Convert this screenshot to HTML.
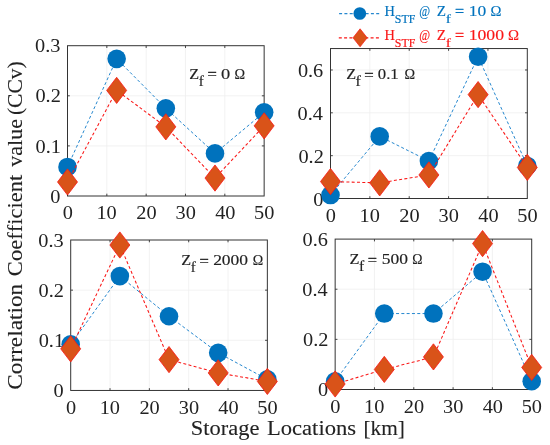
<!DOCTYPE html>
<html lang="en"><head><meta charset="utf-8"><title>Correlation Coefficient value vs Storage Locations</title>
<style>html,body{margin:0;padding:0;background:#fff}body{width:550px;height:445px;overflow:hidden}svg{display:block}</style></head>
<body>
<svg width="550" height="445" viewBox="0 0 550 445" font-family='"Liberation Serif", "DejaVu Serif", serif' style="font-kerning:none">
<rect width="550" height="445" fill="#fff"/>
<path d="M106.83 45.70V196.00M146.16 45.70V196.00M185.49 45.70V196.00M224.82 45.70V196.00M67.50 145.90H264.15M67.50 95.80H264.15" stroke="#efefef" stroke-width="0.8" fill="none"/>
<rect x="67.50" y="45.70" width="196.65" height="150.30" fill="none" stroke="#333" stroke-width="1.0"/>
<path d="M106.83 196.00v-2.3M106.83 45.70v2.3M146.16 196.00v-2.3M146.16 45.70v2.3M185.49 196.00v-2.3M185.49 45.70v2.3M224.82 196.00v-2.3M224.82 45.70v2.3M67.50 145.90h2.3M264.15 145.90h-2.3M67.50 95.80h2.3M264.15 95.80h-2.3" stroke="#333" stroke-width="0.9" fill="none"/>
<text transform="translate(62.71 219.25) scale(1.1300 1)" font-size="18" fill="#222">0</text>
<text transform="translate(96.45 219.25) scale(1.1300 1)" font-size="18" fill="#222">10</text>
<text transform="translate(136.23 219.25) scale(1.1300 1)" font-size="18" fill="#222">20</text>
<text transform="translate(175.52 219.25) scale(1.1300 1)" font-size="18" fill="#222">30</text>
<text transform="translate(215.14 219.25) scale(1.1300 1)" font-size="18" fill="#222">40</text>
<text transform="translate(254.08 219.25) scale(1.1300 1)" font-size="18" fill="#222">50</text>
<text transform="translate(50.30 202.60) scale(1.1300 1)" font-size="18" fill="#222">0</text>
<text transform="translate(35.50 152.50) scale(1.1300 1)" font-size="18" fill="#222">0.1</text>
<text transform="translate(35.40 102.40) scale(1.1300 1)" font-size="18" fill="#222">0.2</text>
<text transform="translate(35.07 52.30) scale(1.1300 1)" font-size="18" fill="#222">0.3</text>
<polyline points="67.50,166.94 116.66,58.83 165.82,108.32 214.99,153.41 264.15,112.33" fill="none" stroke="#2688CF" stroke-width="1.0" stroke-dasharray="3 2.3"/>
<circle cx="67.50" cy="166.94" r="9.3" fill="#0072BD"/>
<circle cx="116.66" cy="58.83" r="9.3" fill="#0072BD"/>
<circle cx="165.82" cy="108.32" r="9.3" fill="#0072BD"/>
<circle cx="214.99" cy="153.41" r="9.3" fill="#0072BD"/>
<circle cx="264.15" cy="112.33" r="9.3" fill="#0072BD"/>
<polyline points="67.50,181.97 116.66,90.39 165.82,126.86 214.99,178.06 264.15,125.86" fill="none" stroke="#FA1616" stroke-width="1.05" stroke-dasharray="3 2.3"/>
<path d="M67.50 168.87L77.50 181.97L67.50 195.07L57.50 181.97Z" fill="#D95319" stroke="#FA1616" stroke-width="0.8" stroke-linejoin="miter"/>
<path d="M116.66 77.29L126.66 90.39L116.66 103.49L106.66 90.39Z" fill="#D95319" stroke="#FA1616" stroke-width="0.8" stroke-linejoin="miter"/>
<path d="M165.82 113.76L175.82 126.86L165.82 139.96L155.82 126.86Z" fill="#D95319" stroke="#FA1616" stroke-width="0.8" stroke-linejoin="miter"/>
<path d="M214.99 164.96L224.99 178.06L214.99 191.16L204.99 178.06Z" fill="#D95319" stroke="#FA1616" stroke-width="0.8" stroke-linejoin="miter"/>
<path d="M264.15 112.76L274.15 125.86L264.15 138.96L254.15 125.86Z" fill="#D95319" stroke="#FA1616" stroke-width="0.8" stroke-linejoin="miter"/>
<path d="M369.86 48.55V198.50M409.22 48.55V198.50M448.58 48.55V198.50M487.94 48.55V198.50M330.50 155.66H527.30M330.50 112.81H527.30M330.50 69.97H527.30" stroke="#efefef" stroke-width="0.8" fill="none"/>
<rect x="330.50" y="48.55" width="196.80" height="149.95" fill="none" stroke="#333" stroke-width="1.0"/>
<path d="M369.86 198.50v-2.3M369.86 48.55v2.3M409.22 198.50v-2.3M409.22 48.55v2.3M448.58 198.50v-2.3M448.58 48.55v2.3M487.94 198.50v-2.3M487.94 48.55v2.3M330.50 155.66h2.3M527.30 155.66h-2.3M330.50 112.81h2.3M527.30 112.81h-2.3M330.50 69.97h2.3M527.30 69.97h-2.3" stroke="#333" stroke-width="0.9" fill="none"/>
<text transform="translate(325.72 221.75) scale(1.1300 1)" font-size="18" fill="#222">0</text>
<text transform="translate(359.48 221.75) scale(1.1300 1)" font-size="18" fill="#222">10</text>
<text transform="translate(399.29 221.75) scale(1.1300 1)" font-size="18" fill="#222">20</text>
<text transform="translate(438.61 221.75) scale(1.1300 1)" font-size="18" fill="#222">30</text>
<text transform="translate(478.26 221.75) scale(1.1300 1)" font-size="18" fill="#222">40</text>
<text transform="translate(517.23 221.75) scale(1.1300 1)" font-size="18" fill="#222">50</text>
<text transform="translate(313.30 205.50) scale(1.1300 1)" font-size="18" fill="#222">0</text>
<text transform="translate(298.40 162.66) scale(1.1300 1)" font-size="18" fill="#222">0.2</text>
<text transform="translate(297.59 119.81) scale(1.1300 1)" font-size="18" fill="#222">0.4</text>
<text transform="translate(297.88 76.97) scale(1.1300 1)" font-size="18" fill="#222">0.6</text>
<polyline points="330.50,195.07 379.70,136.38 428.90,161.01 478.10,56.69 527.30,165.94" fill="none" stroke="#2688CF" stroke-width="1.0" stroke-dasharray="3 2.3"/>
<circle cx="330.50" cy="195.07" r="9.3" fill="#0072BD"/>
<circle cx="379.70" cy="136.38" r="9.3" fill="#0072BD"/>
<circle cx="428.90" cy="161.01" r="9.3" fill="#0072BD"/>
<circle cx="478.10" cy="56.69" r="9.3" fill="#0072BD"/>
<circle cx="527.30" cy="165.94" r="9.3" fill="#0072BD"/>
<polyline points="330.50,181.58 379.70,182.86 428.90,174.94 478.10,94.61 527.30,167.44" fill="none" stroke="#FA1616" stroke-width="1.05" stroke-dasharray="3 2.3"/>
<path d="M330.50 168.48L340.50 181.58L330.50 194.68L320.50 181.58Z" fill="#D95319" stroke="#FA1616" stroke-width="0.8" stroke-linejoin="miter"/>
<path d="M379.70 169.76L389.70 182.86L379.70 195.96L369.70 182.86Z" fill="#D95319" stroke="#FA1616" stroke-width="0.8" stroke-linejoin="miter"/>
<path d="M428.90 161.84L438.90 174.94L428.90 188.04L418.90 174.94Z" fill="#D95319" stroke="#FA1616" stroke-width="0.8" stroke-linejoin="miter"/>
<path d="M478.10 81.51L488.10 94.61L478.10 107.71L468.10 94.61Z" fill="#D95319" stroke="#FA1616" stroke-width="0.8" stroke-linejoin="miter"/>
<path d="M527.30 154.34L537.30 167.44L527.30 180.54L517.30 167.44Z" fill="#D95319" stroke="#FA1616" stroke-width="0.8" stroke-linejoin="miter"/>
<path d="M110.03 240.00V390.45M149.36 240.00V390.45M188.69 240.00V390.45M228.02 240.00V390.45M70.70 340.30H267.35M70.70 290.15H267.35" stroke="#efefef" stroke-width="0.8" fill="none"/>
<rect x="70.70" y="240.00" width="196.65" height="150.45" fill="none" stroke="#333" stroke-width="1.0"/>
<path d="M110.03 390.45v-2.3M110.03 240.00v2.3M149.36 390.45v-2.3M149.36 240.00v2.3M188.69 390.45v-2.3M188.69 240.00v2.3M228.02 390.45v-2.3M228.02 240.00v2.3M70.70 340.30h2.3M267.35 340.30h-2.3M70.70 290.15h2.3M267.35 290.15h-2.3" stroke="#333" stroke-width="0.9" fill="none"/>
<text transform="translate(65.92 413.70) scale(1.1300 1)" font-size="18" fill="#222">0</text>
<text transform="translate(99.65 413.70) scale(1.1300 1)" font-size="18" fill="#222">10</text>
<text transform="translate(139.43 413.70) scale(1.1300 1)" font-size="18" fill="#222">20</text>
<text transform="translate(178.72 413.70) scale(1.1300 1)" font-size="18" fill="#222">30</text>
<text transform="translate(218.34 413.70) scale(1.1300 1)" font-size="18" fill="#222">40</text>
<text transform="translate(257.28 413.70) scale(1.1300 1)" font-size="18" fill="#222">50</text>
<text transform="translate(53.50 397.25) scale(1.1300 1)" font-size="18" fill="#222">0</text>
<text transform="translate(38.70 347.10) scale(1.1300 1)" font-size="18" fill="#222">0.1</text>
<text transform="translate(38.60 296.95) scale(1.1300 1)" font-size="18" fill="#222">0.2</text>
<text transform="translate(38.27 246.80) scale(1.1300 1)" font-size="18" fill="#222">0.3</text>
<polyline points="70.70,344.31 119.86,276.11 169.03,316.23 218.19,352.84 267.35,379.42" fill="none" stroke="#2688CF" stroke-width="1.0" stroke-dasharray="3 2.3"/>
<circle cx="70.70" cy="344.31" r="9.3" fill="#0072BD"/>
<circle cx="119.86" cy="276.11" r="9.3" fill="#0072BD"/>
<circle cx="169.03" cy="316.23" r="9.3" fill="#0072BD"/>
<circle cx="218.19" cy="352.84" r="9.3" fill="#0072BD"/>
<circle cx="267.35" cy="379.42" r="9.3" fill="#0072BD"/>
<polyline points="70.70,348.83 119.86,245.02 169.03,359.61 218.19,372.90 267.35,381.42" fill="none" stroke="#FA1616" stroke-width="1.05" stroke-dasharray="3 2.3"/>
<path d="M70.70 335.73L80.70 348.83L70.70 361.93L60.70 348.83Z" fill="#D95319" stroke="#FA1616" stroke-width="0.8" stroke-linejoin="miter"/>
<path d="M119.86 231.92L129.86 245.02L119.86 258.12L109.86 245.02Z" fill="#D95319" stroke="#FA1616" stroke-width="0.8" stroke-linejoin="miter"/>
<path d="M169.03 346.51L179.03 359.61L169.03 372.71L159.03 359.61Z" fill="#D95319" stroke="#FA1616" stroke-width="0.8" stroke-linejoin="miter"/>
<path d="M218.19 359.80L228.19 372.90L218.19 386.00L208.19 372.90Z" fill="#D95319" stroke="#FA1616" stroke-width="0.8" stroke-linejoin="miter"/>
<path d="M267.35 368.32L277.35 381.42L267.35 394.52L257.35 381.42Z" fill="#D95319" stroke="#FA1616" stroke-width="0.8" stroke-linejoin="miter"/>
<path d="M374.46 239.10V389.50M413.77 239.10V389.50M453.08 239.10V389.50M492.39 239.10V389.50M335.15 339.37H531.70M335.15 289.23H531.70" stroke="#efefef" stroke-width="0.8" fill="none"/>
<rect x="335.15" y="239.10" width="196.55" height="150.40" fill="none" stroke="#333" stroke-width="1.0"/>
<path d="M374.46 389.50v-2.3M374.46 239.10v2.3M413.77 389.50v-2.3M413.77 239.10v2.3M453.08 389.50v-2.3M453.08 239.10v2.3M492.39 389.50v-2.3M492.39 239.10v2.3M335.15 339.37h2.3M531.70 339.37h-2.3M335.15 289.23h2.3M531.70 289.23h-2.3" stroke="#333" stroke-width="0.9" fill="none"/>
<text transform="translate(330.37 412.75) scale(1.1300 1)" font-size="18" fill="#222">0</text>
<text transform="translate(364.08 412.75) scale(1.1300 1)" font-size="18" fill="#222">10</text>
<text transform="translate(403.84 412.75) scale(1.1300 1)" font-size="18" fill="#222">20</text>
<text transform="translate(443.11 412.75) scale(1.1300 1)" font-size="18" fill="#222">30</text>
<text transform="translate(482.71 412.75) scale(1.1300 1)" font-size="18" fill="#222">40</text>
<text transform="translate(521.63 412.75) scale(1.1300 1)" font-size="18" fill="#222">50</text>
<text transform="translate(317.95 396.10) scale(1.1300 1)" font-size="18" fill="#222">0</text>
<text transform="translate(303.05 345.97) scale(1.1300 1)" font-size="18" fill="#222">0.2</text>
<text transform="translate(302.24 295.83) scale(1.1300 1)" font-size="18" fill="#222">0.4</text>
<text transform="translate(302.53 245.70) scale(1.1300 1)" font-size="18" fill="#222">0.6</text>
<polyline points="335.15,381.23 384.29,313.55 433.43,313.55 482.56,271.69 531.70,381.23" fill="none" stroke="#2688CF" stroke-width="1.0" stroke-dasharray="3 2.3"/>
<circle cx="335.15" cy="381.23" r="9.3" fill="#0072BD"/>
<circle cx="384.29" cy="313.55" r="9.3" fill="#0072BD"/>
<circle cx="433.43" cy="313.55" r="9.3" fill="#0072BD"/>
<circle cx="482.56" cy="271.69" r="9.3" fill="#0072BD"/>
<circle cx="531.70" cy="381.23" r="9.3" fill="#0072BD"/>
<polyline points="335.15,383.99 384.29,369.45 433.43,356.91 482.56,243.61 531.70,367.44" fill="none" stroke="#FA1616" stroke-width="1.05" stroke-dasharray="3 2.3"/>
<path d="M335.15 370.89L345.15 383.99L335.15 397.09L325.15 383.99Z" fill="#D95319" stroke="#FA1616" stroke-width="0.8" stroke-linejoin="miter"/>
<path d="M384.29 356.35L394.29 369.45L384.29 382.55L374.29 369.45Z" fill="#D95319" stroke="#FA1616" stroke-width="0.8" stroke-linejoin="miter"/>
<path d="M433.43 343.81L443.43 356.91L433.43 370.01L423.43 356.91Z" fill="#D95319" stroke="#FA1616" stroke-width="0.8" stroke-linejoin="miter"/>
<path d="M482.56 230.51L492.56 243.61L482.56 256.71L472.56 243.61Z" fill="#D95319" stroke="#FA1616" stroke-width="0.8" stroke-linejoin="miter"/>
<path d="M531.70 354.34L541.70 367.44L531.70 380.54L521.70 367.44Z" fill="#D95319" stroke="#FA1616" stroke-width="0.8" stroke-linejoin="miter"/>
<text transform="translate(189.23 78.60) scale(1.1523 1.0472)" font-size="14" fill="#222" stroke="#222" stroke-width="0.15">Z</text>
<text transform="translate(198.64 85.50) scale(1.0635 1.0043)" font-size="14" fill="#222" stroke="#222" stroke-width="0.15">f</text>
<text transform="translate(207.38 79.25) scale(1.1820 1.0000)" font-size="14" fill="#222" stroke="#222" stroke-width="0.3">=</text>
<text transform="translate(220.90 78.60) scale(1.3145 1.0472)" font-size="14" fill="#222" stroke="#222" stroke-width="0.15">0</text>
<text transform="translate(234.46 78.60) scale(1.0162 1.0472)" font-size="14" fill="#222" stroke="#222" stroke-width="0.15">Ω</text>
<text transform="translate(346.33 79.00) scale(1.1523 1.0472)" font-size="14" fill="#222" stroke="#222" stroke-width="0.15">Z</text>
<text transform="translate(355.41 85.60) scale(1.1344 0.9739)" font-size="14" fill="#222" stroke="#222" stroke-width="0.15">f</text>
<text transform="translate(364.17 79.70) scale(1.1973 1.0000)" font-size="14" fill="#222" stroke="#222" stroke-width="0.3">=</text>
<text transform="translate(377.76 79.00) scale(1.1968 1.0472)" font-size="14" fill="#222" stroke="#222" stroke-width="0.15">0.1</text>
<text transform="translate(404.46 79.00) scale(1.0162 1.0472)" font-size="14" fill="#222" stroke="#222" stroke-width="0.15">Ω</text>
<text transform="translate(181.33 265.10) scale(1.1523 1.0472)" font-size="14" fill="#222" stroke="#222" stroke-width="0.15">Z</text>
<text transform="translate(190.74 271.50) scale(1.0635 0.9942)" font-size="14" fill="#222" stroke="#222" stroke-width="0.15">f</text>
<text transform="translate(199.48 265.70) scale(1.1820 1.0000)" font-size="14" fill="#222" stroke="#222" stroke-width="0.3">=</text>
<text transform="translate(213.13 265.10) scale(1.2495 1.0472)" font-size="14" fill="#222" stroke="#222" stroke-width="0.15">2000</text>
<text transform="translate(252.77 265.10) scale(1.0050 1.0472)" font-size="14" fill="#222" stroke="#222" stroke-width="0.15">Ω</text>
<text transform="translate(349.52 264.30) scale(1.1664 1.0581)" font-size="14" fill="#222" stroke="#222" stroke-width="0.15">Z</text>
<text transform="translate(358.92 270.70) scale(1.1107 1.0145)" font-size="14" fill="#222" stroke="#222" stroke-width="0.15">f</text>
<text transform="translate(367.69 264.95) scale(1.1666 1.0000)" font-size="14" fill="#222" stroke="#222" stroke-width="0.3">=</text>
<text transform="translate(381.68 264.30) scale(1.2517 1.0581)" font-size="14" fill="#222" stroke="#222" stroke-width="0.15">500</text>
<text transform="translate(412.29 264.30) scale(0.9827 1.0581)" font-size="14" fill="#222" stroke="#222" stroke-width="0.15">Ω</text>
<path d="M339.1 13.6H379.7" stroke="#2688CF" stroke-width="1.15" stroke-dasharray="3 2.3" fill="none"/>
<circle cx="359.8" cy="13.5" r="6.35" fill="#0072BD"/>
<text transform="translate(384.48 15.85) scale(0.9035 0.9402)" font-size="16" fill="#0072BD" stroke="#0072BD" stroke-width="0.15">H</text>
<text transform="translate(394.80 22.60) scale(0.9530 0.9774)" font-size="12.5" fill="#0072BD" stroke="#0072BD" stroke-width="0.2">STF</text>
<text transform="translate(419.27 15.85) scale(0.7362 0.9402)" font-size="16" fill="#0072BD" stroke="#0072BD" stroke-width="0.15">@</text>
<text transform="translate(436.78 15.85) scale(0.9468 0.9402)" font-size="16" fill="#0072BD" stroke="#0072BD" stroke-width="0.15">Z</text>
<text transform="translate(445.82 22.50) scale(1.1107 0.8826)" font-size="14" fill="#0072BD" stroke="#0072BD" stroke-width="0.2">f</text>
<text transform="translate(455.00 17.31) scale(1.0073 1.0000)" font-size="16" fill="#0072BD" stroke="#0072BD" stroke-width="0.3">=</text>
<text transform="translate(468.66 15.85) scale(1.0941 0.9402)" font-size="16" fill="#0072BD" stroke="#0072BD" stroke-width="0.15">10</text>
<text transform="translate(490.44 15.85) scale(0.9185 0.9402)" font-size="16" fill="#0072BD" stroke="#0072BD" stroke-width="0.15">Ω</text>
<path d="M338.8 37.9H379.7" stroke="#FA1616" stroke-width="1.3" stroke-dasharray="3 2.3" fill="none"/>
<path d="M360.1 28.799999999999997L367.20000000000005 37.8L360.1 46.8L353.0 37.8Z" fill="#D95319" stroke="#FA1616" stroke-width="0.7"/>
<text transform="translate(384.48 39.85) scale(0.9035 0.9402)" font-size="16" fill="#FA1616" stroke="#FA1616" stroke-width="0.15">H</text>
<text transform="translate(394.80 46.60) scale(0.9530 0.9774)" font-size="12.5" fill="#FA1616" stroke="#FA1616" stroke-width="0.2">STF</text>
<text transform="translate(419.27 39.85) scale(0.7362 0.9402)" font-size="16" fill="#FA1616" stroke="#FA1616" stroke-width="0.15">@</text>
<text transform="translate(436.78 39.85) scale(0.9468 0.9402)" font-size="16" fill="#FA1616" stroke="#FA1616" stroke-width="0.15">Z</text>
<text transform="translate(445.82 46.50) scale(1.1107 0.8826)" font-size="14" fill="#FA1616" stroke="#FA1616" stroke-width="0.2">f</text>
<text transform="translate(455.00 41.31) scale(1.0073 1.0000)" font-size="16" fill="#FA1616" stroke="#FA1616" stroke-width="0.3">=</text>
<text transform="translate(468.64 39.85) scale(1.1072 0.9402)" font-size="16" fill="#FA1616" stroke="#FA1616" stroke-width="0.15">1000</text>
<text transform="translate(507.93 39.85) scale(0.9282 0.9402)" font-size="16" fill="#FA1616" stroke="#FA1616" stroke-width="0.15">Ω</text>
<text transform="translate(190.80 434.70) scale(1.0691 1.0254)" font-size="21" fill="#222" stroke="#222" stroke-width="0.1">Storage</text>
<text transform="translate(266.95 434.70) scale(1.0768 1.0254)" font-size="21" fill="#222" stroke="#222" stroke-width="0.1">Locations</text>
<text transform="translate(363.52 434.70) scale(1.0158 1.0254)" font-size="21" fill="#222" stroke="#222" stroke-width="0.1">[km]</text>
<text transform="translate(21.60 389.75) rotate(-90) scale(1.1074 1.0145)" font-size="21" fill="#222" stroke="#222" stroke-width="0.1">Correlation</text>
<text transform="translate(21.60 276.13) rotate(-90) scale(1.0741 1.0145)" font-size="21" fill="#222" stroke="#222" stroke-width="0.1">Coefficient</text>
<text transform="translate(21.60 166.70) rotate(-90) scale(1.0503 1.0145)" font-size="21" fill="#222" stroke="#222" stroke-width="0.1">value</text>
<text transform="translate(21.60 115.05) rotate(-90) scale(1.0246 1.0145)" font-size="21" fill="#222" stroke="#222" stroke-width="0.1">(CCv)</text>
</svg>
</body></html>
